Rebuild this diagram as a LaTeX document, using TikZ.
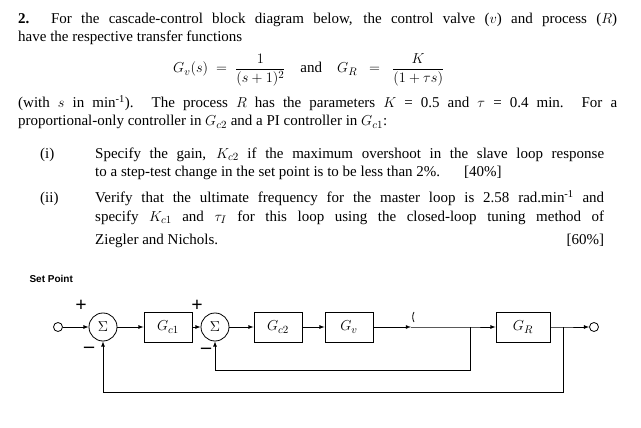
\documentclass[tikz,border=0pt]{standalone}
\usepackage{amsmath}
\usepackage{fontspec}
\setmainfont{Liberation Serif}
\setsansfont{Liberation Sans}
\usetikzlibrary{positioning}
\newcommand{\jline}[2]{\makebox[#1][s]{#2}}
\tikzset{
  txt/.style={anchor=base west, inner sep=0pt, font=\fontsize{15}{18}\selectfont},
  blk/.style={draw, thick, minimum width=48pt, minimum height=30pt, font=\fontsize{15}{18}\selectfont},
  sumnode/.style={draw, thick, circle, minimum size=28pt, inner sep=0pt, font=\fontsize{14}{14}\selectfont},
  term/.style={draw, thick, circle, minimum size=9pt, inner sep=0pt},
  sig/.style={thick, -latex},
  sgn/.style={font=\fontsize{20}{20}\selectfont\bfseries}
}
\begin{document}
\begin{tikzpicture}[x=1pt,y=-1pt]
\useasboundingbox (0,0) rectangle (641,428);
% question text
\node[txt] (l1) at (18,24) {\jline{599pt}{\textbf{2.} For the cascade-control block diagram below, the control valve ($v$) and process ($R$)}};
\node[txt] (l2) at (18,42) {have the respective transfer functions};
\node[txt] (gv) at (173,73) {$G_v(s)\;=\;\dfrac{1}{(s+1)^2}$\quad and\quad $G_R\;\;=\;\;\dfrac{K}{(1+\tau s)}$};
\node[txt] (l3) at (18,108) {\jline{599pt}{(with $s$ in min\textsuperscript{-1}). The process $R$ has the parameters $K$ = 0.5 and $\tau$ = 0.4 min. For a}};
\node[txt] (l4) at (18,126) {proportional-only controller in $G_{c2}$ and a PI controller in $G_{c1}$:};
\node[txt] (i1) at (40,158) {(i)};
\node[txt] (i2) at (95,158) {\jline{509pt}{Specify the gain, $K_{c2}$ if the maximum overshoot in the slave loop response}};
\node[txt] (i3) at (95,176) {\makebox[509pt][l]{to a step-test change in the set point is to be less than 2\%.\hspace{1.6em}[40\%]}};
\node[txt] (ii1) at (40,203) {(ii)};
\node[txt] (ii2) at (95,203) {\jline{509pt}{Verify that the ultimate frequency for the master loop is 2.58 rad.min\textsuperscript{-1} and}};
\node[txt] (ii3) at (95,221) {\jline{509pt}{specify $K_{c1}$ and $\tau_I$ for this loop using the closed-loop tuning method of}};
\node[txt] (ii4) at (95,244) {\makebox[509pt][l]{Ziegler and Nichols.\hfill[60\%]}};
\node[anchor=west, font=\sffamily\bfseries\fontsize{10}{11}\selectfont] (sp) at (26,279) {Set Point};
% block diagram
\node[term] (in) at (58,327) {};
\node[sumnode] (s1) at (103,327) {$\Sigma$};
\node[blk] (gc1) at (168,327) {$G_{c1}$};
\node[sumnode] (s2) at (215,327) {$\Sigma$};
\node[blk] (gc2) at (278,327) {$G_{c2}$};
\node[blk] (gvb) at (349,327) {$G_v$};
\node[blk, minimum width=54pt] (gr) at (523,327) {$G_R$};
\node[term] (out) at (594,327) {};
\coordinate (gap) at (411,327);
\coordinate (tap1) at (470,327);
\coordinate (tap2) at (563,327);
\draw[sig] (in) -- (s1);
\draw[sig] (s1) -- (gc1);
\draw[sig] (gc1) -- (s2);
\draw[sig] (s2) -- (gc2);
\draw[sig] (gc2) -- (gvb);
\draw[sig] (gvb) -- (gap);
\draw[thick] (gap) ++(3,-5) arc (150:210:10);
\draw[sig] (gap) -- (tap1) -- (gr);
\draw[sig] (gr) -- (tap2) -- (out);
\draw[sig] (tap1) |- (215,370) -- (s2);
\draw[sig] (tap2) |- (103,392) -- (s1);
\node[sgn] (p1) at (81,306) {+};
\node[sgn] (m1) at (89,350) {--};
\node[sgn] (p2) at (197,306) {+};
\node[sgn] (m2) at (206,351) {--};
\end{tikzpicture}
\end{document}
